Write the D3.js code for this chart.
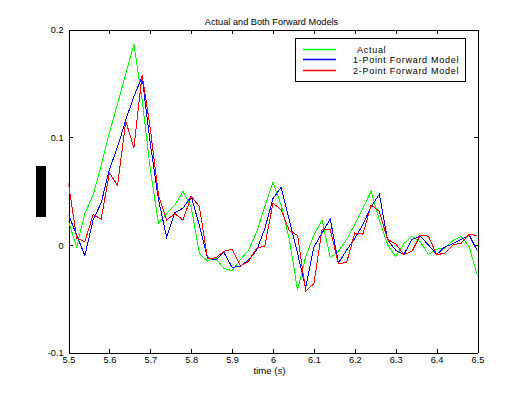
<!DOCTYPE html>
<html><head><meta charset="utf-8">
<script src="https://cdn.jsdelivr.net/npm/d3@7"></script>
<style>body{margin:0;background:#fff}svg{display:block}text{font-family:"Liberation Sans",Arial,sans-serif;fill:#000}</style>
</head><body><svg id="c" width="528" height="396"></svg>
<script>
const t0 = 5.5, dt = 0.02;
const actual = [0.0216,-0.002,0.029,0.046,0.074,0.104,0.131,0.159,0.186,0.135,0.070,0.020,0.029,0.037,0.0495,0.035,-0.008,-0.015,-0.012,-0.022,-0.024,-0.014,-0.005,0.012,0.0355,0.058,0.037,0.005,-0.042,-0.011,0.009,0.023,-0.012,-0.006,0.005,0.019,0.034,0.050,0.023,0.000,-0.011,0.001,0.008,0.003,-0.009,-0.004,-0.003,0.004,0.008,-0.002,-0.029];
const model1 = [0.028,0.009,-0.010,0.023,0.039,0.070,0.091,0.116,0.138,0.156,0.094,0.042,0.007,0.030,0.034,0.045,0.018,-0.012,-0.014,-0.007,-0.021,-0.020,-0.014,-0.005,0.015,0.043,0.0535,0.023,-0.008,-0.040,-0.002,0.011,0.024,-0.017,-0.005,0.006,0.019,0.0355,0.047,0.005,-0.005,-0.009,0.005,0.008,0.000,-0.009,-0.002,0.001,0.005,0.009,-0.006];
const model2 = [0.057,0.006,0.003,0.028,0.024,0.067,0.055,0.115,0.090,0.158,0.108,0.046,0.023,0.029,0.023,0.045,0.0355,-0.013,-0.012,-0.006,-0.004,-0.0195,-0.0155,-0.003,-0.001,0.0387,0.0325,0.013,0.009,-0.043,-0.036,0.0145,0.014,-0.0176,-0.0164,0.011,0.010,0.037,0.031,0.005,0.001,-0.009,-0.006,0.009,0.008,-0.009,-0.008,0.000,0.0015,0.010,0.008];
const xTicks = [5.5,5.6,5.7,5.8,5.9,6,6.1,6.2,6.3,6.4,6.5];
const yTicks = [-0.1,0,0.1,0.2];
const seriesNames = ["Actual","1-Point Forward Model","2-Point Forward Model"];
const seriesColors = ["#00ff00","#0000ff","#ff0000"];
const titleText = "Actual and Both Forward Models";

const svg = d3.select("#c");
const L = 68.5, R = 477.5, T = 29.5, B = 352.5;
const x = d3.scaleLinear().domain([5.5,6.5]).range([L,R]);
const y = d3.scaleLinear().domain([-0.1,0.2]).range([B,T]);

svg.append("defs").append("clipPath").attr("id","clip")
  .append("rect").attr("x",L).attr("y",T).attr("width",R-L).attr("height",B-T);

const fmt = d => String(+d.toFixed(2));
const gx = svg.append("g").attr("transform",`translate(0,${B})`)
  .call(d3.axisBottom(x).tickValues(xTicks).tickFormat(fmt).tickSizeInner(-4).tickSizeOuter(0).tickPadding(4));
const gxt = svg.append("g").attr("transform",`translate(0,${T})`)
  .call(d3.axisTop(x).tickValues(xTicks).tickFormat("").tickSizeInner(-4).tickSizeOuter(0));
const gy = svg.append("g").attr("transform",`translate(${L},0)`)
  .call(d3.axisLeft(y).tickValues(yTicks).tickFormat(fmt).tickSizeInner(-4).tickSizeOuter(0).tickPadding(5));
const gyr = svg.append("g").attr("transform",`translate(${R},0)`)
  .call(d3.axisRight(y).tickValues(yTicks).tickFormat("").tickSizeInner(-4).tickSizeOuter(0));
[gx,gxt,gy,gyr].forEach(g=>{
  g.selectAll("path.domain").attr("stroke","#000").attr("shape-rendering","crispEdges");
  g.selectAll("line").attr("stroke","#000").attr("shape-rendering","crispEdges");
  g.selectAll("text").style("font-size","9.2px").attr("fill","#000");
});
gx.selectAll("text").attr("dy","0.71em");
gy.selectAll("text").attr("dy","0.35em");

const line = d3.line().x((d,i)=>x(t0+i*dt)).y(d=>y(d));
const plot = svg.append("g").attr("clip-path","url(#clip)");
[actual,model1,model2].forEach((s,k)=>{
  plot.append("path").datum(s).attr("d",line).attr("fill","none")
    .attr("stroke",seriesColors[k]).attr("stroke-width",1).attr("shape-rendering","crispEdges");
});

// title & label
svg.append("text").attr("x",271.5).attr("y",24.5).attr("text-anchor","middle")
  .style("font-size","9.2px").text(titleText);
const xl = svg.append("text").attr("x",269.5).attr("y",374).attr("text-anchor","middle").style("font-size","9.6px");
xl.append("tspan").text("time (");
xl.append("tspan").style("font-style","italic").text("s");
xl.append("tspan").text(")");

// redacted y label block
svg.append("rect").attr("x",36).attr("y",166).attr("width",10).attr("height",51).attr("fill","#000");

// legend
const lg = svg.append("g");
lg.append("rect").attr("x",295.5).attr("y",38.5).attr("width",170).attr("height",42.5)
  .attr("fill","#fff").attr("stroke","#000").attr("shape-rendering","crispEdges");
const rowsY = [49.5,59.5,70.5];
const seg = d3.line();
seriesNames.forEach((n,k)=>{
  lg.append("path").attr("d",seg([[303,rowsY[k]],[336,rowsY[k]]]))
    .attr("fill","none").attr("stroke",seriesColors[k]).attr("stroke-width",1.3);
  lg.append("text").attr("x",k===0?357:353).attr("y",rowsY[k]+3.3)
    .style("font-size","9px").style("letter-spacing","0.72px").text(n);
});
</script></body></html>
